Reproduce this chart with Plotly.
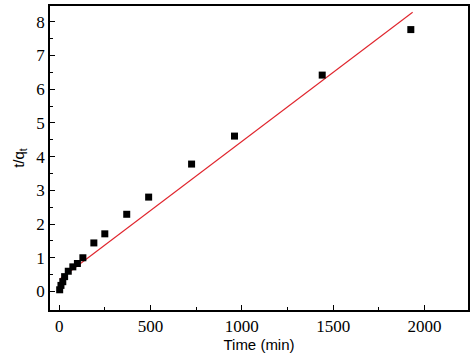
import plotly.graph_objects as go

# Experimental data
time_min = [3, 10, 20, 30, 50, 75, 100, 130, 190, 250, 370, 490, 725, 960, 1440, 1925]
t_over_qt = [0.05, 0.18, 0.29, 0.44, 0.60, 0.73, 0.83, 1.00, 1.44, 1.71, 2.29, 2.80, 3.78, 4.61, 6.42, 7.77]

# Linear fit (pseudo-second-order) parameters
fit_intercept = 0.35
fit_slope = 0.0041
fit_x = [3, 1935]
fit_y = [fit_intercept + fit_slope * x for x in fit_x]

x_ticks = [0, 500, 1000, 1500, 2000]
y_ticks = [0, 1, 2, 3, 4, 5, 6, 7, 8]

fig = go.Figure()
fig.add_trace(go.Scatter(x=fit_x, y=fit_y, mode="lines",
                         line=dict(color="#e0242c", width=1.1), showlegend=False))
fig.add_trace(go.Scatter(x=time_min, y=t_over_qt, mode="markers",
                         marker=dict(symbol="square", size=7, color="black"), showlegend=False))

serif = "Liberation Serif"
sans = "Liberation Sans"
fig.update_layout(
    width=474, height=353,
    margin=dict(l=50, r=6, t=4, b=41),
    paper_bgcolor="white", plot_bgcolor="white",
    font_family=serif, font_size=17, font_color="black",
    xaxis_tickfont_family=serif, xaxis_tickfont_size=17,
    yaxis_tickfont_family=serif, yaxis_tickfont_size=17,
)
fig.update_xaxes(range=[-50, 2238], tickvals=x_ticks,
                 ticks="inside", ticklen=5, tickwidth=1.3, tickcolor="black",
                 minor=dict(tickvals=[250, 750, 1250, 1750], ticks="inside", ticklen=3, tickwidth=1.3, tickcolor="black"),
                 showline=True, linecolor="black", linewidth=1.5, mirror=True,
                 showgrid=False, zeroline=False,
                 title_text="Time (min)",
                 title_font=dict(family=sans, size=15, color="black"),
                 title_standoff=2)
fig.update_yaxes(range=[-0.55, 8.47], tickvals=y_ticks,
                 ticks="inside", ticklen=5, tickwidth=1.3, tickcolor="black",
                 minor=dict(tickvals=[0.5 + i for i in range(8)], ticks="inside", ticklen=3, tickwidth=1.3, tickcolor="black"),
                 showline=True, linecolor="black", linewidth=1.5, mirror=True,
                 showgrid=False, zeroline=False,
                 title_text="t/q<sub>t</sub>",
                 title_font=dict(family=sans, size=15, color="black"),
                 title_standoff=8)
fig.write_html("out.html", include_plotlyjs=True)
